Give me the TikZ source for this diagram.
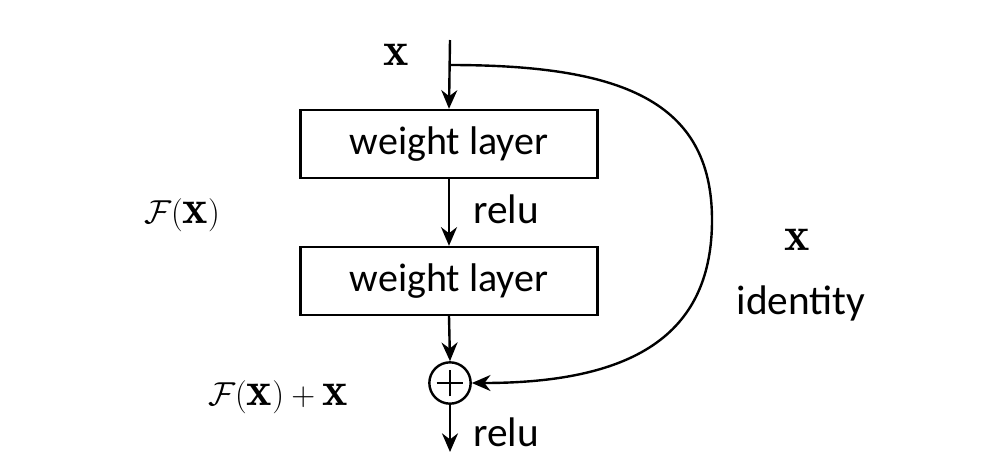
\documentclass[tikz,border=0pt]{standalone}
\usepackage{fontspec}
\usepackage{amsmath}
\setsansfont{Carlito}
\usetikzlibrary{arrows.meta}
\begin{document}
\begin{tikzpicture}[x=0.75pt,y=-0.75pt,
  box/.style={draw,line width=1.8pt,minimum width=223pt,minimum height=51pt,inner sep=0pt,font=\sffamily\fontsize{30}{34}\selectfont},
  lbl/.style={font=\sffamily\fontsize{31}{36}\selectfont},
  mth/.style={font=\fontsize{36}{42}\selectfont},
  arr/.style={line width=1.8pt,-{Stealth[length=14pt,width=12pt]}}]
\useasboundingbox (0,0) rectangle (982,472);
\coordinate (top) at (450,40);
\coordinate (s) at (450,65);
\node[box] (b1) at (449,144) {weight layer};
\node[box] (b2) at (449,281) {weight layer};
\node[draw,circle,line width=1.8pt,minimum size=31pt,inner sep=0pt] (p) at (450,383) {};
\draw[line width=1.8pt] ([yshift=-10pt]p.center)--([yshift=10pt]p.center) ([xshift=-10pt]p.center)--([xshift=10pt]p.center);
\coordinate (out) at (450,452);
\draw[arr] (top)--(b1.north);
\draw[arr] (b1.south)--(b2.north);
\draw[arr] (b2.south)--(p.north);
\draw[arr] (p.south)--(out);
\draw[arr] (s) .. controls (620,65) and (712,100) .. (712,220) .. controls (712,330) and (640,383) .. (p.east);
\node[mth] (x1) at (396,55) {$\mathbf{x}$};
\node[lbl] (r1) at (506,209) {relu};
\node[lbl] (r2) at (506,432) {relu};
\node[mth] (f1) at (182,215) {$\mathcal{F}(\mathbf{x})$};
\node[mth] (f2) at (278,397) {$\mathcal{F}(\mathbf{x})+\mathbf{x}$};
\node[mth] (x2) at (797,240) {$\mathbf{x}$};
\node[lbl] (id) at (801,303) {identity};
\end{tikzpicture}
\end{document}
